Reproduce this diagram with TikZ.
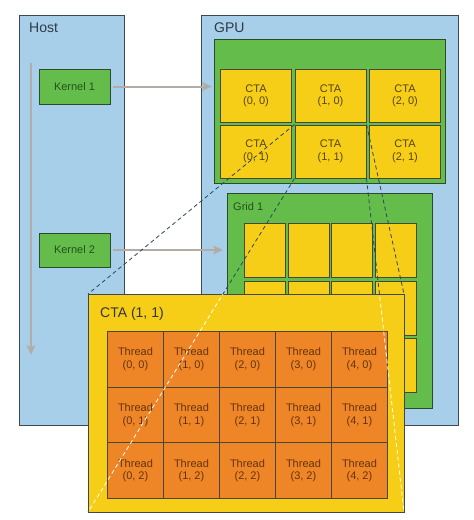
\documentclass[tikz,border=0pt]{standalone}
\usepackage{fontspec}
\setmainfont{Liberation Sans}
\usetikzlibrary{arrows.meta}
\definecolor{bluefill}{HTML}{A8CFEA}
\definecolor{greenfill}{HTML}{64BD4B}
\definecolor{yellowfill}{HTML}{F7CE17}
\definecolor{orangefill}{HTML}{EE8627}
\definecolor{edgegray}{HTML}{3E4850}
\definecolor{edgegreen}{HTML}{2E4A2E}
\definecolor{edgecell}{HTML}{4A4630}
\definecolor{arrowgray}{HTML}{B3ACA6}
\definecolor{dashblue}{HTML}{2B4660}
\definecolor{txtblue}{HTML}{2E3A44}
\definecolor{txtgreen}{HTML}{24501C}
\definecolor{txtyellow}{HTML}{54440C}
\definecolor{txtorange}{HTML}{64330C}
\tikzset{
  panel/.style={draw=edgegray, line width=1pt, fill=bluefill, anchor=north west, inner sep=0pt},
  greenbox/.style={draw=edgegreen, line width=1pt, fill=greenfill, anchor=north west, inner sep=0pt},
  kernelbox/.style={greenbox, minimum width=71pt, minimum height=35pt, anchor=center, text=txtgreen, font=\fontsize{11}{12.5}\selectfont},
  ctacell/.style={draw=edgecell, line width=1pt, fill=yellowfill, anchor=north west, inner sep=0pt, minimum width=71pt, minimum height=53pt, align=center, text=txtyellow, font=\fontsize{11}{12.5}\selectfont},
  gridcell/.style={draw=edgecell, line width=1pt, fill=yellowfill, anchor=north west, inner sep=0pt, minimum width=41pt, minimum height=54pt},
  bigcta/.style={draw=edgegray, line width=1pt, fill=yellowfill, anchor=north west, inner sep=0pt},
  threadcell/.style={draw=edgecell, line width=0.9pt, fill=orangefill, anchor=north west, inner sep=0pt, minimum width=56pt, minimum height=55.67pt, align=center, text=txtorange, font=\fontsize{11}{12.5}\selectfont},
  title/.style={anchor=base west, inner sep=0pt, text=txtblue, font=\fontsize{14}{16}\selectfont},
  smalltitle/.style={anchor=base west, inner sep=0pt, text=txtgreen, font=\fontsize{11}{12.5}\selectfont},
  grayarrow/.style={draw=arrowgray, line width=2pt, -{Stealth[length=10pt,width=9pt,inset=2.5pt]}},
  dashline/.style={draw=dashblue, line width=0.8pt, dash pattern=on 4pt off 3pt},
  whitedash/.style={draw=white, line width=0.8pt, dash pattern=on 4pt off 3pt},
}
\begin{document}
\begin{tikzpicture}[x=1pt,y=-1pt]
\useasboundingbox (0,0) rectangle (474,520);
% Host panel
\node[panel, minimum width=105pt, minimum height=410pt] (host) at (19,15) {};
\node[title] (hostlbl) at (29,32) {Host};
\coordinate (hs) at (31,63);
\coordinate (he) at (31,355);
\draw[grayarrow] (hs) -- (he);
\node[kernelbox] (k1) at (74.5,86.5) {Kernel 1};
\node[kernelbox, minimum height=34pt] (k2) at (74.5,250) {Kernel 2};
% GPU panel
\node[panel, minimum width=257pt, minimum height=410pt] (gpu) at (201,15) {};
\node[title] (gpulbl) at (214,32) {GPU};
% Grid 0
\node[greenbox, minimum width=231pt, minimum height=144pt] (g0) at (214,39) {};
\foreach \i in {0,1,2} {
  \foreach \j in {0,1} {
    \node[ctacell] (c\i\j) at ({220+74.5*\i},{69+55.5*\j}) {CTA\\(\i, \j)};
  }
}
% Grid 1
\node[greenbox, minimum width=205pt, minimum height=215pt] (g1) at (227,193) {};
\node[smalltitle] (g1lbl) at (233,210) {Grid 1};
\foreach \i in {0,1,2,3} {
  \foreach \j in {0,1,2} {
    \node[gridcell] (d\i\j) at ({244+43.7*\i},{223+57.5*\j}) {};
  }
}
% Kernel arrows
\draw[grayarrow, shorten <=2pt, shorten >=2pt] (k1.east) -- (k1.east -| g0.west);
\draw[grayarrow, shorten <=2pt, shorten >=4pt] (k2.east) -- (k2.east -| g1.west);
% Big CTA (1,1)
\coordinate (bnw) at (88,294);
\coordinate (bne) at (404,294);
\coordinate (bsw) at (88,512);
\coordinate (bse) at (404,512);
\draw[dashline] (c11.north west) -- (bnw);
\draw[dashline] (c11.north east) -- (bne);
\draw[dashline] (c11.south west) -- (bsw);
\draw[dashline] (c11.south east) -- (bse);
\node[bigcta, minimum width=316pt, minimum height=218pt] (cta) at (88,294) {};
\node[title, text=black!80] (ctalbl) at (100,317) {CTA (1, 1)};
\foreach \i in {0,1,2,3,4} {
  \foreach \j in {0,1,2} {
    \node[threadcell] (t\i\j) at ({107+56*\i},{331+55.67*\j}) {Thread\\(\i, \j)};
  }
}
\begin{scope}
  \clip (cta.north west) rectangle (cta.south east);
  \draw[whitedash] (c11.south west) -- (bsw);
  \draw[whitedash] (c11.south east) -- (bse);
\end{scope}
\end{tikzpicture}
\end{document}
